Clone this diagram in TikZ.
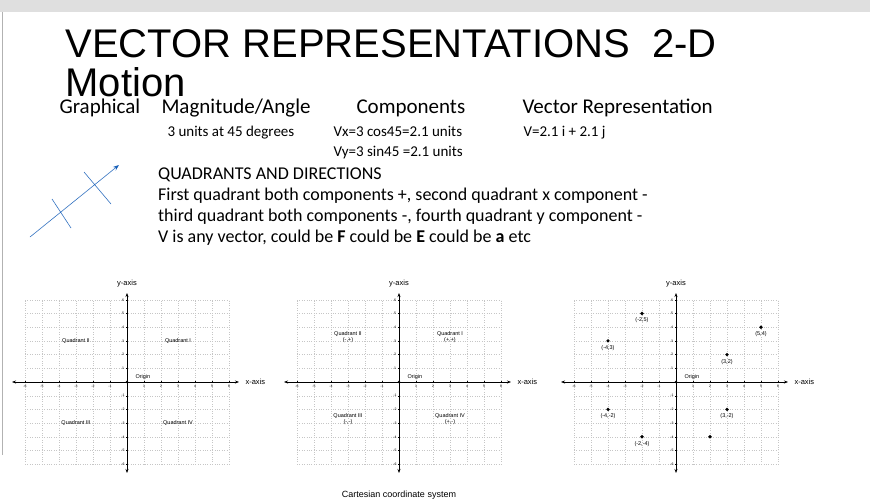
\documentclass[tikz,border=0pt]{standalone}
\usepackage{fontspec}
\setmainfont{Carlito}
\newfontfamily\arialf{Liberation Sans}
\usetikzlibrary{arrows.meta}
\tikzset{
  gridl/.style={gray!45,dotted,line width=0.4pt},
  axis/.style={line width=0.7pt,{Stealth[length=4pt]}-{Stealth[length=4pt]}},
  tick/.style={font=\arialf\fontsize{3.5}{4}\selectfont},
  qlab/.style={font=\arialf\fontsize{5.5}{6}\selectfont,align=center},
  alab/.style={font=\arialf\fontsize{7.5}{8}\selectfont},
  head/.style={font=\fontsize{21}{23}\selectfont,anchor=base west},
  body/.style={font=\fontsize{15}{17}\selectfont,anchor=base west},
  pt/.style={circle,fill=black,inner sep=1.3pt},
  vec/.style={blue!55!cyan!70!black,line width=0.6pt,opacity=0.8},
}
\newcommand{\cgrid}{%
  \foreach \i in {-6,...,6}{\draw[gridl] (\i*17,-6*13.7) -- (\i*17,6*13.7);
    \draw[gridl] (-6*17,\i*13.7) -- (6*17,\i*13.7);}
  \draw[axis] (-115,0) -- (112,0);
  \draw[axis] (0,-91) -- (0,89);
  \foreach \i in {-6,...,-1,1,2,...,6}{
    \node[tick] at (\i*17,-4.5) {\i};
    \node[tick] at (-4,\i*13.7) {\i};
    \draw[line width=0.3pt] (\i*17,-1) -- (\i*17,1);
    \draw[line width=0.3pt] (-1,\i*13.7) -- (1,\i*13.7);}
  \node[pt,inner sep=1pt] (o) at (0,0) {};
  \node[qlab,anchor=west] at (5,5) {Origin};
  \node[alab] at (0,98) {y-axis};
  \node[alab,anchor=west] at (115,0) {x-axis};
}
\begin{document}
\begin{tikzpicture}[x=1pt,y=-1pt]
\useasboundingbox (0,0) rectangle (870,503);
\fill[gray!25] (0,0) rectangle (870,12);
\fill[white] (3,12) rectangle (870,503);
\draw[gray!60,line width=1pt] (2,12) -- (2,455);
% title
\node[font=\arialf\fontsize{40}{42}\selectfont,anchor=base west] (t1) at (62,58) {VECTOR REPRESENTATIONS\ \ 2-D};
\node[font=\arialf\fontsize{40}{42}\selectfont,anchor=base west] (t2) at (62,96) {Motion};
\node[head] (h1) at (56,113) {Graphical};
\node[head] (h2) at (158,113) {Magnitude/Angle};
\node[head] (h3) at (353,113) {Components};
\node[head] (h4) at (519,113) {Vector Representation};
\node[body] (b1) at (164,136) {3 units at 45 degrees};
\node[body] (b2) at (330,136) {Vx=3 cos45=2.1 units};
\node[body] (b3) at (330,156) {Vy=3 sin45 =2.1 units};
\node[body] (b4) at (520,136) {V=2.1 i + 2.1 j};
\node[font=\fontsize{18}{21}\selectfont,align=left,anchor=north west,inner sep=0pt] (q) at (158,168) {QUADRANTS AND DIRECTIONS\\
First quadrant both components +, second quadrant x component -\\
third quadrant both components -, fourth quadrant y component -\\
V is any vector, could be \textbf{F} could be \textbf{E} could be \textbf{a} etc};
% vector sketch
\coordinate (v0) at (30,237); \coordinate (v1) at (119,165);
\draw[vec,-{Stealth[length=6pt]}] (v0) -- (v1);
\coordinate (c1a) at (52,199); \coordinate (c1b) at (71,228);
\coordinate (c2a) at (84,172); \coordinate (c2b) at (111,204);
\draw[vec] (c1a) -- (c1b); \draw[vec] (c2a) -- (c2b);
% graph 1
\begin{scope}[shift={(127,382)},yscale=-1]
\cgrid
\node[qlab] at (-3*17,3*13.7) {Quadrant II};
\node[qlab] at (3*17,3*13.7) {Quadrant I};
\node[qlab] at (-3*17,-3*13.7) {Quadrant III};
\node[qlab] at (3*17,-3*13.7) {Quadrant IV};
\end{scope}
% graph 2
\begin{scope}[shift={(399,382)},yscale=-1]
\cgrid
\node[qlab] at (-3*17,3.3*13.7) {Quadrant II\\(-,+)};
\node[qlab] at (3*17,3.3*13.7) {Quadrant I\\(+,+)};
\node[qlab] at (-3*17,-2.7*13.7) {Quadrant III\\(-,-)};
\node[qlab] at (3*17,-2.7*13.7) {Quadrant IV\\(+,-)};
\end{scope}
% graph 3
\begin{scope}[shift={(676,382)},yscale=-1]
\cgrid
\foreach \a/\b/\l in {-2/5/{(-2,5)},-4/3/{(-4,3)},5/4/{(5,4)},3/2/{(3,2)},-4/-2/{(-4,-2)},3/-2/{(3,-2)},-2/-4/{(-2,-4)}}{
  \node[pt] at (\a*17,\b*13.7) {};
  \node[qlab] at (\a*17,\b*13.7-7) {\l};}
\node[pt] at (2*17,-4*13.7) {};
\end{scope}
\node[font=\arialf\fontsize{9}{10}\selectfont] (cap) at (399,495) {Cartesian coordinate system};
\end{tikzpicture}
\end{document}
